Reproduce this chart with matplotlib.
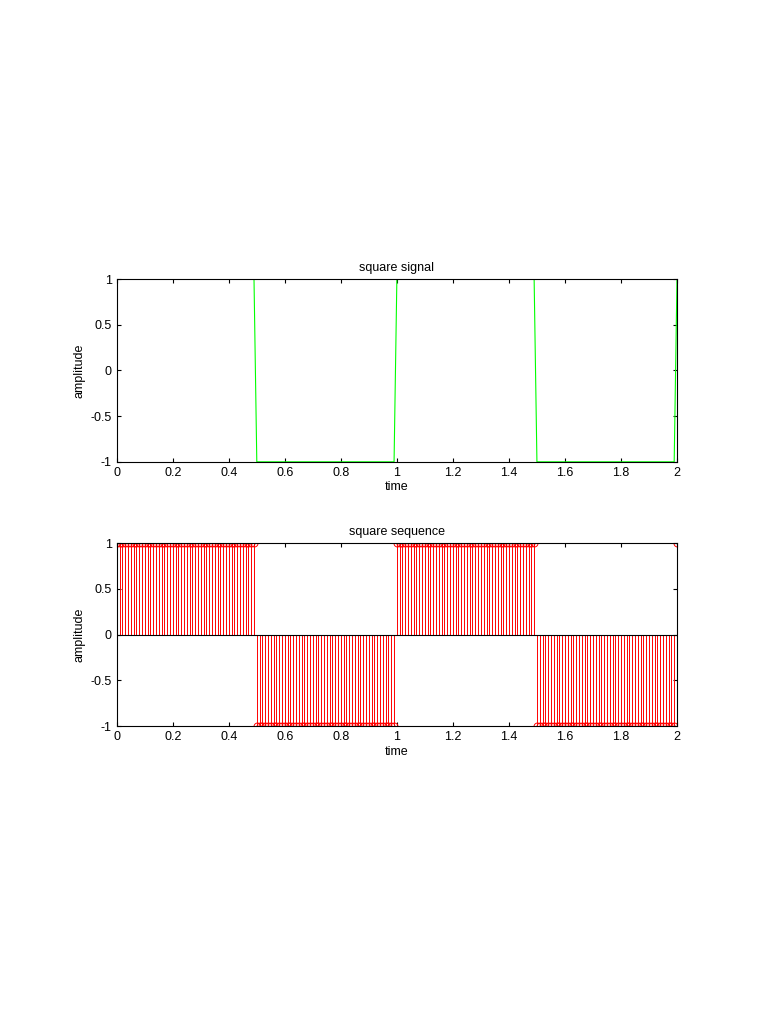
import numpy as np
import matplotlib
matplotlib.use("Agg")
import matplotlib.pyplot as plt

# sample step and run-length description of the square sequence
dt = 0.01
levels = [1, -1, 1, -1, 1]
counts = [50, 50, 50, 50, 1]
y = np.concatenate([[lv] * c for lv, c in zip(levels, counts)]).astype(float)
t = np.arange(len(y)) * dt

xticks = [0, 0.2, 0.4, 0.6, 0.8, 1, 1.2, 1.4, 1.6, 1.8, 2]
xticklabels = ["0", "0.2", "0.4", "0.6", "0.8", "1", "1.2", "1.4", "1.6", "1.8", "2"]
yticks = [-1, -0.5, 0, 0.5, 1]
yticklabels = ["-1", "-0.5", "0", "0.5", "1"]

plt.rcParams['font.family'] = ['Liberation Sans', 'DejaVu Sans']
fig = plt.figure(figsize=(7.68, 10.24), dpi=100)
ax1 = fig.add_axes([0.152, 0.549, 0.7295, 0.1785])
ax2 = fig.add_axes([0.152, 0.291, 0.7295, 0.1785])

ax1.plot(t, y, color='#00ff00', lw=0.8)
ax1.set_title('square signal', fontsize=9, pad=6)

ml, sl, bl = ax2.stem(t, y, basefmt='k-')
plt.setp(sl, color='red', lw=0.7)
plt.setp(ml, marker='o', markerfacecolor='none', markeredgecolor='red', markersize=5, markeredgewidth=0.7)
plt.setp(bl, color='black', lw=0.8)
ax2.set_title('square sequence', fontsize=9, pad=6)

for ax in (ax1, ax2):
    ax.set_xlim(0, 2)
    ax.set_ylim(-1, 1)
    ax.set_xticks(xticks)
    ax.set_xticklabels(xticklabels)
    ax.set_yticks(yticks)
    ax.set_yticklabels(yticklabels)
    ax.tick_params(direction='in', labelsize=9, length=3, top=True, right=True)
    ax.set_xlabel('time', fontsize=9, labelpad=2)
    ax.set_ylabel('amplitude', fontsize=9)
    for s in ax.spines.values():
        s.set_linewidth(0.8)

fig.savefig('out.png', dpi=100)
